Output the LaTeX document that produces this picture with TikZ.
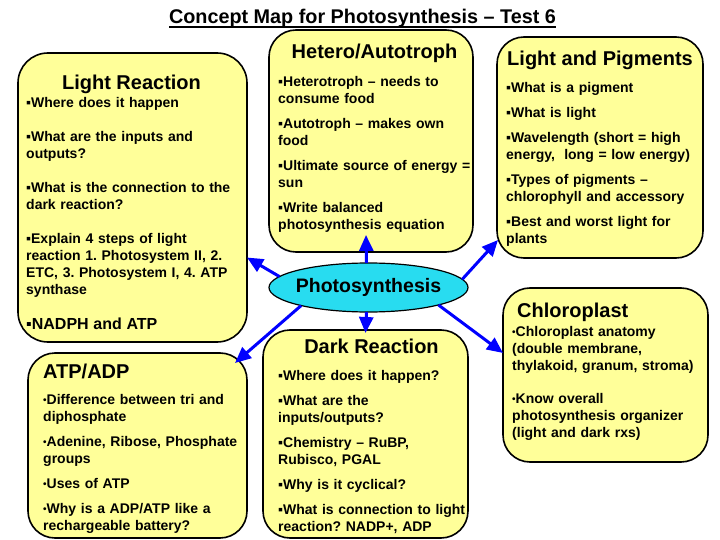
\documentclass[tikz,border=0pt]{standalone}
\usepackage{fontspec}
\setmainfont{Liberation Sans}
\usetikzlibrary{arrows.meta,shapes.geometric}
\definecolor{notefill}{RGB}{255,255,153}
\definecolor{centrefill}{RGB}{40,220,240}
\setlength{\parindent}{0pt}
\frenchspacing
\newcommand{\sqb}{▪}
\newcommand{\rdot}{{\fontsize{10}{10}\selectfont\raisebox{1pt}{•}}}
\newcommand{\lineunder}[1]{\setbox0\hbox{#1}\rlap{\rule[-4.1pt]{\wd0}{1.6pt}}\box0}

\begin{document}
\begin{tikzpicture}[x=1pt,y=-1pt,
  conbox/.style={draw,line width=1.6pt,fill=notefill,rounded corners=27pt,inner sep=0pt,outer sep=0pt},
  boxhead/.style={anchor=base,inner sep=0pt,font=\fontsize{20}{24}\selectfont\bfseries},
  boxtext/.style={anchor=north west,inner sep=0pt,text width=240pt,align=left,font=\fontsize{14}{17}\selectfont\bfseries},
  linkarrow/.style={-{Triangle[length=16pt,width=14pt]},blue,line width=3pt}]
\useasboundingbox (0,0) rectangle (720,540);

\node[anchor=base,inner sep=0pt,font=\fontsize{19.8}{24}\selectfont\bfseries] (title)
    at (362.5,24) {\lineunder{Concept Map for Photosynthesis – Test 6}};

% boxes
\node[conbox,rounded corners=30pt,minimum width=229pt,minimum height=289pt] (lr) at (132.5,197.5) {};
\node[conbox,minimum width=204pt,minimum height=222pt] (hetero) at (371,141) {};
\node[conbox,minimum width=206pt,minimum height=221pt] (lp) at (600,147.5) {};
\node[conbox,minimum width=205pt,minimum height=174pt] (chl) at (605.5,375) {};
\node[conbox,minimum width=205pt,minimum height=208pt] (dark) at (365.5,434) {};
\node[conbox,minimum width=219pt,minimum height=185pt] (atp) at (137.5,445.5) {};

\node[ellipse,draw,line width=1.2pt,fill=centrefill,minimum width=199pt,minimum height=49pt,
    inner sep=0pt,outer sep=0pt,font=\fontsize{19.5}{23}\selectfont\bfseries]
    (photo) at (368.5,287.5) {\makebox[0pt]{Photosynthesis}};

\draw[linkarrow] (photo.173) -- ([shift={(0,60)}]lr.east);
\draw[linkarrow] ([xshift=-2pt]photo.north) -- ([shift={(-5,-17)}]hetero.south);
\draw[linkarrow] (photo.5) -- ([shift={(1,-18)}]lp.south west);
\draw[linkarrow] (photo.-14) -- ([shift={(0,-22)}]chl.west);
\draw[linkarrow] ([xshift=-2pt]photo.south) -- ([shift={(0,3)}]dark.north);
\draw[linkarrow] (photo.-165) -- ([shift={(-12,10)}]atp.north east);

% texts
\node[boxhead] (lrhead) at (131.5,90) {Light Reaction};
\node[boxtext] (lrtext) at (26,97) {\sqb Where does it happen\\[17pt]
  \sqb What are the inputs and\\ outputs?\\[17pt]
  \sqb What is the connection to the\\ dark reaction?\\[17pt]
  \sqb Explain 4 steps of light\\ reaction 1. Photosystem II, 2.\\ ETC, 3. Photosystem I, 4. ATP\\ synthase\\[18pt]
  {\fontsize{16}{17}\selectfont\sqb NADPH and ATP}};

\node[boxhead] (heterohead) at (374.5,59) {Hetero/Autotroph};
\node[boxtext] (heterotext) at (278,76) {\sqb Heterotroph – needs to\\ consume food\\[8pt]
  \sqb Autotroph – makes own\\ food\\[8pt]
  \sqb Ultimate source of energy =\\ sun\\[8pt]
  \sqb Write balanced\\ photosynthesis equation};

\node[boxhead] (lphead) at (600,66) {Light and Pigments};
\node[boxtext] (lptext) at (506,82) {\sqb What is a pigment\\[8pt]
  \sqb What is light\\[8pt]
  \sqb Wavelength (short = high\\ energy,\ \ long = low energy)\\[8pt]
  \sqb Types of pigments –\\ chlorophyll and accessory\\[8pt]
  \sqb Best and worst light for\\ plants};

\node[boxhead,anchor=base west] (chlhead) at (517,317) {Chloroplast};
\node[boxtext] (chltext) at (512,326) {\rdot Chloroplast anatomy\\ (double membrane,\\ thylakoid, granum, stroma)\\[16pt]
  \rdot Know overall\\ photosynthesis organizer\\ (light and dark rxs)};

\node[boxhead] (darkhead) at (371.5,353) {Dark Reaction};
\node[boxtext] (darktext) at (278,370) {\sqb Where does it happen?\\[8pt]
  \sqb What are the\\ inputs/outputs?\\[8pt]
  \sqb Chemistry – RuBP,\\ Rubisco, PGAL\\[8pt]
  \sqb Why is it cyclical?\\[8pt]
  \sqb What is connection to light\\ reaction? NADP+, ADP};

\node[boxhead,anchor=base west] (atphead) at (43,378) {ATP/ADP};
\node[boxtext] (atptext) at (43,394) {\rdot Difference between tri and\\ diphosphate\\[8pt]
  \rdot Adenine, Ribose, Phosphate\\ groups\\[8pt]
  \rdot Uses of ATP\\[8pt]
  \rdot Why is a ADP/ATP like a\\ rechargeable battery?};
\end{tikzpicture}
\end{document}
